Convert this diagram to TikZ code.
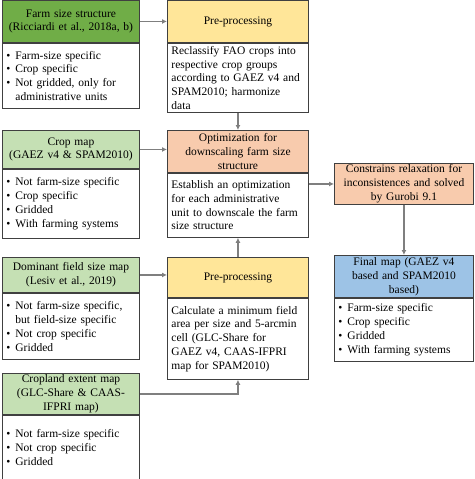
\documentclass[tikz,border=0pt]{standalone}
\usepackage{fontspec}
\setmainfont{Liberation Serif}
\usetikzlibrary{arrows.meta,positioning,calc}
\definecolor{farmGreen}{HTML}{70AD47}
\definecolor{mapGreen}{HTML}{C5E0B4}
\definecolor{prepYellow}{HTML}{FFE699}
\definecolor{optOrange}{HTML}{F8CBAD}
\definecolor{finalBlue}{HTML}{9DC3E6}
\definecolor{edgeGray}{HTML}{404040}
\definecolor{arrowGray}{HTML}{7F7F7F}
\newcommand{\bitem}[1]{\makebox[9pt][l]{\textbullet}#1}
\newcommand{\bcont}[1]{\hspace*{9pt}#1}
\tikzset{
head/.style={draw=edgeGray, line width=0.9pt, align=center, inner xsep=4pt, inner ysep=0pt, font=\fontsize{11.5}{13.8}\selectfont},
lcol/.style={text width=129pt},
mcol/.style={text width=133pt},
rcol/.style={text width=131pt},
farmbox/.style={head, lcol, fill=farmGreen},
mapbox/.style={head, lcol, fill=mapGreen},
prepbox/.style={head, mcol, fill=prepYellow},
optbox/.style={head, fill=optOrange},
finalbox/.style={head, rcol, fill=finalBlue},
listbox/.style={draw=edgeGray, fill=white, line width=0.9pt, align=left, inner xsep=4pt, inner ysep=0pt, font=\fontsize{11.5}{13.8}\selectfont},
arrow/.style={-{Latex[length=5pt,width=5pt]}, line width=1.5pt, arrowGray}
}
\begin{document}
\begin{tikzpicture}[x=1pt,y=-1pt]
\useasboundingbox (0,0) rectangle (474,479);
% left column: input data
\node[farmbox, minimum height=42pt, anchor=north west] (farm) at (2,0) {Farm size structure\\(Ricciardi et al., 2018a, b)};
\node[listbox, lcol, minimum height=65pt, below=0pt of farm] (farmlist) {\bitem{Farm-size specific}\\\bitem{Crop specific}\\\bitem{Not gridded, only for}\\\bcont{administrative units}};
\node[mapbox, minimum height=38pt, anchor=north west] (cropmap) at (2,130) {Crop map\\(GAEZ v4 \& SPAM2010)};
\node[listbox, lcol, minimum height=69pt, below=0pt of cropmap] (cropmaplist) {\bitem{Not farm-size specific}\\\bitem{Crop specific}\\\bitem{Gridded}\\\bitem{With farming systems}};
\node[mapbox, minimum height=35pt, anchor=north west] (field) at (2,257) {Dominant field size map\\(Lesiv et al., 2019)};
\node[listbox, lcol, minimum height=66pt, below=0pt of field] (fieldlist) {\bitem{Not farm-size specific,}\\\bcont{but field-size specific}\\\bitem{Not crop specific}\\\bitem{Gridded}};
\node[mapbox, minimum height=41pt, anchor=north west] (extent) at (2,373) {Cropland extent map\\(GLC-Share \& CAAS-\\IFPRI map)};
\node[listbox, lcol, minimum height=64pt, below=0pt of extent] (extentlist) {\bitem{Not farm-size specific}\\\bitem{Not crop specific}\\\bitem{Gridded}};
% middle column: processing
\node[prepbox, minimum height=42pt, anchor=north west] (prepA) at (167,0) {Pre-processing};
\node[listbox, mcol, minimum height=69pt, below=0pt of prepA] (prepAtext) {Reclassify FAO crops into\\respective crop groups\\according to GAEZ v4 and\\SPAM2010; harmonize\\data};
\node[optbox, mcol, minimum height=42pt, anchor=north west] (optim) at (167,130) {Optimization for\\downscaling farm size\\structure};
\node[listbox, mcol, minimum height=64pt, below=0pt of optim] (optimtext) {Establish an optimization\\for each administrative\\unit to downscale the farm\\size structure};
\node[prepbox, minimum height=40pt, anchor=north west] (prepB) at (167,257) {Pre-processing};
\node[listbox, mcol, minimum height=81pt, below=0pt of prepB] (prepBtext) {Calculate a minimum field\\area per size and 5-arcmin\\cell (GLC-Share for\\GAEZ v4, CAAS-IFPRI\\map for SPAM2010)};
% right column: results
\node[optbox, rcol, minimum height=41pt, anchor=north west] (relax) at (334,163) {Constrains relaxation for\\inconsistences and solved\\by Gurobi 9.1};
\node[finalbox, minimum height=42pt, anchor=north west] (final) at (334,255) {Final map (GAEZ v4\\based and SPAM2010\\based)};
\node[listbox, rcol, minimum height=63pt, below=0pt of final] (finallist) {\bitem{Farm-size specific}\\\bitem{Crop specific}\\\bitem{Gridded}\\\bitem{With farming systems}};
% connectors
\draw[arrow] (farm.east) -- (prepA.west);
\draw[arrow] (prepAtext.south) -- (optim.north);
\draw[arrow] (cropmap.east) -- (cropmap.east -| optim.west);
\draw[arrow] (relax.west -| optimtext.east) -- (relax.west);
\draw[arrow] (relax.south) -- (final.north);
\draw[arrow] (field.east) -- (field.east -| prepB.west);
\draw[arrow] (prepB.north) -- (optimtext.south);
\draw[arrow] (extent.east) -| (prepBtext.south);
\end{tikzpicture}
\end{document}
